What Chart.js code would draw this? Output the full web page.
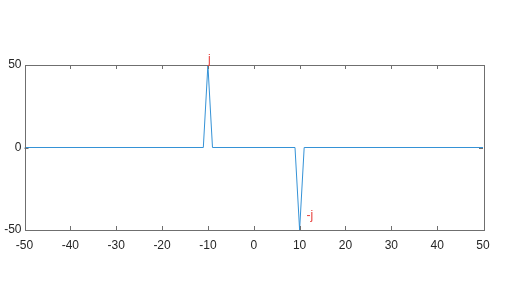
<!DOCTYPE html>
<html>
<head>
<meta charset="utf-8">
<script src="https://cdn.jsdelivr.net/npm/chart.js@4"></script>
<style>
    html, body { margin: 0; padding: 0; background: #fff; }
    #wrap { width: 515px; height: 293px; }
</style>
</head>
<body>
<div id="wrap"><canvas id="chart" width="515" height="293"></canvas></div>
<script>
// spectrum: zero everywhere except the two impulses
const xValues = [-50, -11, -10, -9, 9, 10, 11, 50];
const yValues = [0, 0, 50, 0, 0, -50, 0, 0];
const xTicks = [-50, -40, -30, -20, -10, 0, 10, 20, 30, 40, 50];
const yTicks = [-50, 0, 50];
const noteText = ['j', '-j'];
const noteX = [-10, 11.5];
const noteY = [53, -41.5];

const points = xValues.map((x, i) => ({ x: x, y: yValues[i] }));

const frame = {
    id: 'frame',
    afterDatasetsDraw(chart) {
        const ctx = chart.ctx;
        const a = chart.chartArea;
        const xs = chart.scales.x;
        const ys = chart.scales.y;
        ctx.save();
        ctx.strokeStyle = '#6f6f6f';
        ctx.lineWidth = 1;
        ctx.beginPath();
        xTicks.slice(1, -1).forEach(t => {
            const px = Math.round(xs.getPixelForValue(t)) + 0.5;
            ctx.moveTo(px, a.top); ctx.lineTo(px, a.top + 4);
            ctx.moveTo(px, a.bottom); ctx.lineTo(px, a.bottom - 4);
        });
        const py = Math.round(ys.getPixelForValue(0)) + 0.5;
        ctx.moveTo(a.left, py); ctx.lineTo(a.left + 4, py);
        ctx.moveTo(a.right, py); ctx.lineTo(a.right - 4, py);
        ctx.stroke();
        ctx.strokeRect(Math.round(a.left) + 0.5, Math.round(a.top) + 0.5,
            Math.round(a.right - a.left), Math.round(a.bottom - a.top));

        ctx.fillStyle = '#e8403c';
        ctx.font = '12px "Liberation Sans", Arial, sans-serif';
        ctx.textAlign = 'left';
        ctx.textBaseline = 'middle';
        noteText.forEach((txt, i) => {
            ctx.fillText(txt, xs.getPixelForValue(noteX[i]), ys.getPixelForValue(noteY[i]));
        });
        ctx.restore();
    }
};

new Chart(document.getElementById('chart'), {
    type: 'scatter',
    data: {
        datasets: [{
            data: points,
            showLine: true,
            borderColor: '#3592d6',
            borderWidth: 1,
            pointRadius: 0,
            tension: 0
        }]
    },
    options: {
        responsive: false,
        animation: false,
        layout: { padding: { top: 65, right: 32, left: 0, bottom: 0 } },
        plugins: { legend: { display: false }, tooltip: { enabled: false } },
        scales: {
            x: {
                type: 'linear',
                min: -50,
                max: 50,
                afterBuildTicks: s => { s.ticks = xTicks.map(v => ({ value: v })); },
                afterFit: s => { s.height = 63; },
                grid: { display: false, drawTicks: false },
                border: { display: false },
                ticks: {
                    padding: 8,
                    color: '#262626',
                    font: { family: '"Liberation Sans", Arial, sans-serif', size: 12 },
                    maxRotation: 0,
                    autoSkip: false
                }
            },
            y: {
                min: -50,
                max: 50,
                afterBuildTicks: s => { s.ticks = yTicks.map(v => ({ value: v })); },
                afterFit: s => { s.width = 24.5; },
                grid: { display: false, drawTicks: false },
                border: { display: false },
                ticks: {
                    padding: 3,
                    color: '#262626',
                    font: { family: '"Liberation Sans", Arial, sans-serif', size: 12 }
                }
            }
        }
    },
    plugins: [frame]
});
</script>
</body>
</html>
